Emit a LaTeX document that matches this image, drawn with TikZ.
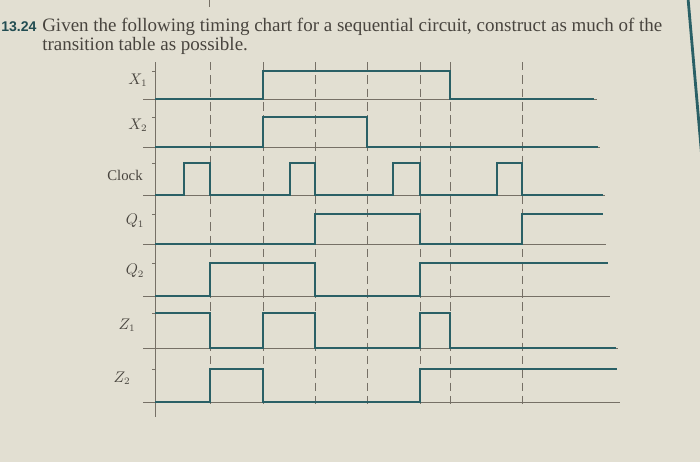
\documentclass[tikz,border=0pt]{standalone}
\usepackage{fontspec}
\setmainfont{Liberation Serif}
\newfontfamily\numfont{Liberation Sans}
\usepackage{tikz}
\usetikzlibrary{positioning}

\definecolor{paper}{RGB}{226,223,210}
\definecolor{wave}{RGB}{42,96,102}
\definecolor{grid}{RGB}{118,112,102}
\definecolor{ink}{RGB}{72,68,62}

\tikzset{
  signal/.style={wave,line width=1.6pt,line join=miter},
  baseline/.style={grid,line width=0.5pt},
  clockline/.style={grid,line width=0.5pt,dash pattern=on 6pt off 3.5pt},
  signame/.style={ink,font=\fontsize{10.5}{12}\selectfont}
}

\begin{document}
\begin{tikzpicture}[x=0.025cm,y=-0.025cm]
    \fill[paper] (0,0) rectangle (700,462);
    \useasboundingbox (0,0) rectangle (700,462);
    \begin{scope}
      \clip (0,0) rectangle (700,462);
      \draw[wave,line width=2pt] (688,-2) -- (703,170);
    \end{scope}
    \draw[grid,line width=0.6pt] (209,0) -- (209,7);

    % problem text
    \node[anchor=base west,inner sep=0pt,wave!80!black,font=\numfont\bfseries\fontsize{10}{12}\selectfont] (num) at (1,31) {13.24};
    \node[anchor=base west,ink,font=\fontsize{13.5}{15}\selectfont,inner sep=0pt] (line1) at (42,31)
      {Given the following timing chart for a sequential circuit, construct as much of the};
    \node[anchor=base west,ink,font=\fontsize{13.5}{15}\selectfont,inner sep=0pt] (line2) at (42,50)
      {transition table as possible.};

    % axis and level ticks
    \draw[grid,line width=0.6pt] (155,62) -- (155,417);
    \foreach \hi in {71,117,163,214,263,313,369}
      \draw[grid,line width=0.6pt] (152,\hi) -- (155,\hi);

    % clock edges
    \foreach \t in {210,263,315,367,420,450,522}
      \draw[clockline] (\t,62) -- (\t,408);

    % base lines
    \foreach \lo/\e in {99/597,147/600,195/605,244/606,296/610,348/618,402/620}
      \draw[baseline] (143,\lo) -- (\e,\lo);

    % names
    \node[signame] (nX1) at (138,80) {$X_1$};
    \node[signame] (nX2) at (138,125) {$X_2$};
    \node[signame] (nClk) at (125,175) {Clock};
    \node[signame] (nQ1) at (135,221) {$Q_1$};
    \node[signame] (nQ2) at (135,271) {$Q_2$};
    \node[signame] (nZ1) at (127,325) {$Z_1$};
    \node[signame] (nZ2) at (122,378) {$Z_2$};

    % waveforms
    \draw[signal] (155,99) -- (263,99) -- (263,71) -- (450,71) -- (450,99) -- (594,99);
    \draw[signal] (155,147) -- (263,147) -- (263,117) -- (367,117) -- (367,147) -- (598,147);
    \draw[signal] (155,195) -- (184,195) -- (184,163) -- (210,163) -- (210,195)
      -- (290,195) -- (290,163) -- (315,163) -- (315,195)
      -- (393,195) -- (393,163) -- (420,163) -- (420,195)
      -- (497,195) -- (497,163) -- (522,163) -- (522,195) -- (603,195);
    \draw[signal] (155,244) -- (315,244) -- (315,214) -- (420,214) -- (420,244)
      -- (522,244) -- (522,214) -- (603,214);
    \draw[signal] (155,296) -- (210,296) -- (210,263) -- (315,263) -- (315,296)
      -- (420,296) -- (420,263) -- (608,263);
    \draw[signal] (155,313) -- (210,313) -- (210,348) -- (263,348) -- (263,313)
      -- (315,313) -- (315,348) -- (420,348) -- (420,313) -- (450,313) -- (450,348) -- (616,348);
    \draw[signal] (155,402) -- (210,402) -- (210,369) -- (263,369) -- (263,402)
      -- (420,402) -- (420,369) -- (617,369);
  \end{tikzpicture}
\end{document}
